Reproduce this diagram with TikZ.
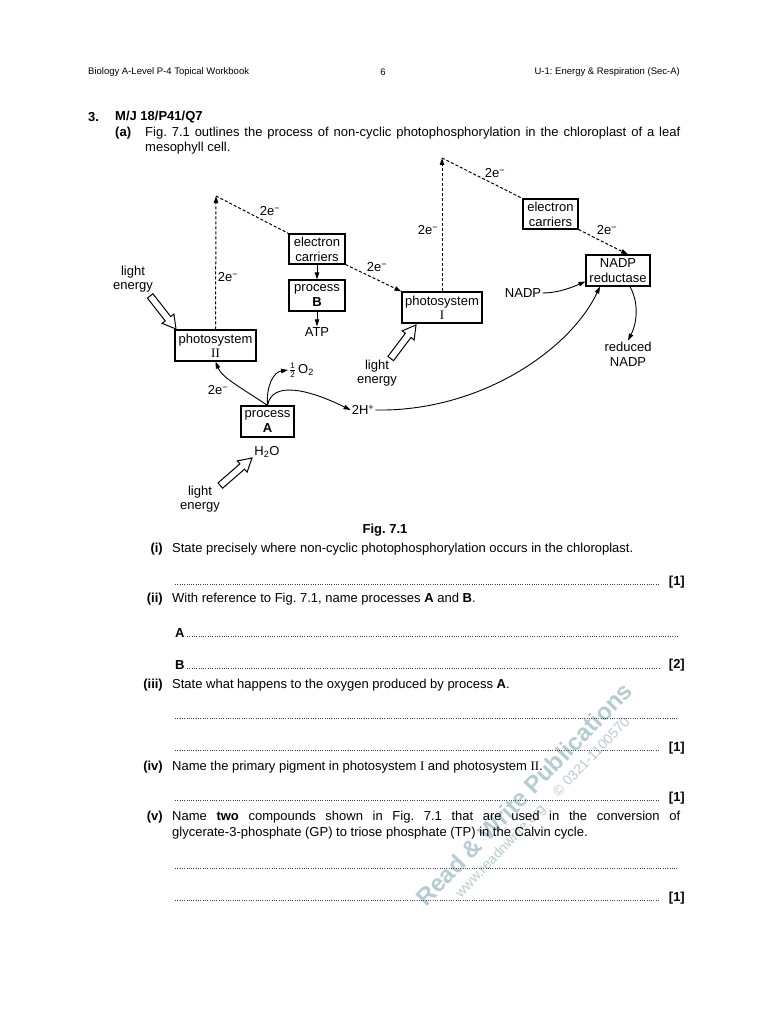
\documentclass[tikz,border=0pt]{standalone}
\usepackage{fontspec}
\setmainfont{Liberation Sans}
\newfontfamily\romfont{Liberation Serif}
\usetikzlibrary{arrows.meta}

\definecolor{wmark}{HTML}{B4CDD3}

% hollow "light energy" arrow, tip at the origin, pointing along +x
\tikzset{
  pics/lightarrow/.style={code={
    \draw[line width=1pt, fill=white, line join=miter]
      (0,0) -- (-13,7.5) -- (-13,3.5) -- (-42,3.5) -- (-42,-3.5)
      -- (-13,-3.5) -- (-13,-7.5) -- cycle;}}
}

\begin{document}
\frenchspacing
\begin{tikzpicture}[
  x=1pt, y=-1pt,
  >={Stealth[inset=0pt,length=7pt,width=4.5pt]},
  font=\fontsize{13}{15}\selectfont,
  box/.style={draw, line width=1.1pt, align=center, inner sep=1pt, minimum height=31pt},
  lbl/.style={align=center, inner sep=1pt},
  txt/.style={anchor=west, inner sep=0pt},
  bld/.style={font=\bfseries\fontsize{13}{15}\selectfont},
  eflow/.style={line width=1pt, dash pattern=on 3pt off 2pt},
  flow/.style={line width=0.9pt},
  ansline/.style={line width=0.9pt, dash pattern=on 0.8pt off 1.5pt, black!75},
  hdr/.style={inner sep=0pt, font=\fontsize{9.5}{11}\selectfont}
]
  \fill[white] (0,0) rectangle (768,1024);
  \useasboundingbox (0,0) rectangle (768,1024);

  % watermark
  \node[rotate=46, text=wmark, font=\bfseries\fontsize{24}{24}\selectfont] (wmA) at (524,794) {Read \& Write Publications};
  \node[rotate=46, text=wmark, font=\fontsize{14}{14}\selectfont] (wmB) at (543,808) {www.readnwrite.org \quad © 0321-1100570};

  % header
  \node[hdr, anchor=west] (hL) at (88,72) {Biology A-Level P-4 Topical Workbook};
  \node[hdr] (hM) at (383,72) {6};
  \node[hdr, anchor=east] (hR) at (680,72) {U-1: Energy \& Respiration (Sec-A)};

  % question heading
  \node[txt, bld] (qNum) at (88,117) {3.};
  \node[txt, bld] (qRef) at (115,117) {M/J 18/P41/Q7};
  \node[txt, bld] (qa) at (115,133) {(a)};
  \node[txt] (qaL1) at (145,133) {\makebox[535pt][s]{Fig. 7.1 outlines the process of non-cyclic photophosphorylation in the chloroplast of a leaf}};
  \node[txt] (qaL2) at (145,148) {mesophyll cell.};

  % boxes
  \node[box, minimum width=81pt] (PSII) at (215.5,345.5) {photosystem\\[-1pt]{\romfont II}};
  \node[box, minimum width=56pt, minimum height=30pt] (EC1) at (317,249) {electron\\carriers};
  \node[box, minimum width=56pt] (pB) at (317,295.5) {process\\\textbf{B}};
  \node[lbl] (ATP) at (317,332) {ATP};
  \node[box, minimum width=80pt] (PSI) at (442,307.5) {photosystem\\[-1pt]{\romfont I}};
  \node[box, minimum width=55pt, minimum height=30pt] (EC2) at (550.5,214) {electron\\carriers};
  \node[box, minimum width=64pt] (NR) at (618,270.5) {NADP\\reductase};
  \node[box, minimum width=53pt] (pA) at (267.5,421.5) {process\\\textbf{A}};

  % labels
  \node[lbl] (NADP) at (523,293) {NADP};
  \node[lbl] (redN) at (628,354) {reduced\\NADP};
  \node[lbl] (hplus) at (363,410) {2H\textsuperscript{+}};
  \node[lbl] (water) at (267,452) {H\textsubscript{2}O};
  \node[lbl, anchor=west] (oxy) at (288,370) {$\frac{\mbox{\fontsize{8}{8}\selectfont 1}}{\mbox{\fontsize{8}{8}\selectfont 2}}$\,O\textsubscript{2}};
  \node[lbl] (lightII) at (133,279) {light\\[-1pt]energy};
  \node[lbl] (lightI) at (377,373) {light\\[-1pt]energy};
  \node[lbl] (lightA) at (200,499) {light\\[-1pt]energy};
  \node[lbl] (eA) at (228,277) {2e\textsuperscript{−}};
  \node[lbl] (eB) at (270,211) {2e\textsuperscript{−}};
  \node[lbl] (eC) at (377,267) {2e\textsuperscript{−}};
  \node[lbl] (eD) at (428,230) {2e\textsuperscript{−}};
  \node[lbl] (eE) at (495,173) {2e\textsuperscript{−}};
  \node[lbl] (eF) at (607,230) {2e\textsuperscript{−}};
  \node[lbl] (eG) at (218,390) {2e\textsuperscript{−}};

  \coordinate (tP2) at (216,196);
  \coordinate (tP1) at (442,158);

  % electron flow
  \draw[eflow,->] (PSII.north) -- (tP2);
  \draw[eflow] (tP2) -- (EC1.north west);
  \draw[eflow,->] (EC1.south east) -- (PSI.north west);
  \draw[eflow,->] (PSI.north) -- (tP1);
  \draw[eflow] (tP1) -- (EC2.north west);
  \draw[eflow,->] (EC2.south east) -- ([xshift=10pt]NR.north);
  \draw[flow,->] (EC1.south) -- (pB.north);
  \draw[flow,->] (pB.south) -- (ATP.north);

  % process A products
  \draw[flow,->] (pA.north) .. controls (245,390) and (222,378) .. (PSII.south);
  \draw[flow,->] (pA.north) .. controls (266,385) and (274,372) .. (oxy.west);
  \draw[flow,->] (pA.north) .. controls (272,380) and (310,390) .. (hplus.west);
  \draw[flow,->] (hplus.east) .. controls (480,412) and (570,350) .. ([xshift=-18pt]NR.south);
  \draw[flow,->] (NADP.east) .. controls (560,293) and (575,286) .. ([yshift=-11pt]NR.west);
  \draw[flow,->] ([xshift=12pt]NR.south) .. controls (640,305) and (636,325) .. (redN.north);

  % light energy
  \pic[rotate=-52] at (176,329) {lightarrow};
  \pic[rotate=53] at (416,325) {lightarrow};
  \pic[rotate=41] at (252,458) {lightarrow};

  \node[bld] (fig) at (385,530) {Fig. 7.1};

  % questions
  \node[txt, anchor=east, bld] (qi) at (163,549) {(i)};
  \node[txt] (qiT) at (172,549) {State precisely where non-cyclic photophosphorylation occurs in the chloroplast.};
  \draw[ansline] (175,584) -- (660,584);
  \node[txt, anchor=east, bld] (m1) at (685,582) {[1]};

  \node[txt, anchor=east, bld] (qii) at (163,599) {(ii)};
  \node[txt] (qiiT) at (172,599) {With reference to Fig. 7.1, name processes \textbf{A} and \textbf{B}.};
  \node[txt, bld] (ansA) at (175,633) {A};
  \draw[ansline] (187,636) -- (677,636);
  \node[txt, bld] (ansB) at (175,665) {B};
  \draw[ansline] (187,668) -- (660,668);
  \node[txt, anchor=east, bld] (m2) at (685,665) {[2]};

  \node[txt, anchor=east, bld] (qiii) at (163,685) {(iii)};
  \node[txt] (qiiiT) at (172,685) {State what happens to the oxygen produced by process \textbf{A}.};
  \draw[ansline] (175,718) -- (677,718);
  \draw[ansline] (175,750) -- (660,750);
  \node[txt, anchor=east, bld] (m3) at (685,748) {[1]};

  \node[txt, anchor=east, bld] (qiv) at (163,767) {(iv)};
  \node[txt] (qivT) at (172,767) {Name the primary pigment in photosystem {\romfont I} and photosystem {\romfont II}.};
  \draw[ansline] (175,800) -- (660,800);
  \node[txt, anchor=east, bld] (m4) at (685,798) {[1]};

  \node[txt, anchor=east, bld] (qv) at (163,817) {(v)};
  \node[txt] (qvL1) at (172,817) {\makebox[508pt][s]{Name \textbf{two} compounds shown in Fig. 7.1 that are used in the conversion of}};
  \node[txt] (qvL2) at (172,833) {glycerate-3-phosphate (GP) to triose phosphate (TP) in the Calvin cycle.};
  \draw[ansline] (175,868) -- (677,868);
  \draw[ansline] (175,900) -- (660,900);
  \node[txt, anchor=east, bld] (m5) at (685,898) {[1]};
\end{tikzpicture}
\end{document}
